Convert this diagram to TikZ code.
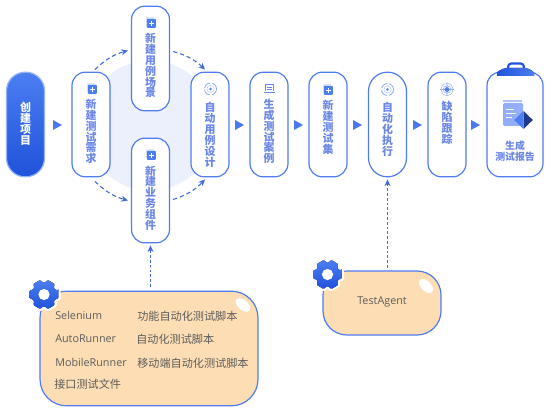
\documentclass[tikz,border=0pt]{standalone}
\usepackage{fontspec}
\setmainfont{Open Sans}
\newfontfamily\cjk{Noto Sans CJK SC}
\usetikzlibrary{arrows.meta}
\definecolor{edge}{HTML}{4F7CF0}
\definecolor{ink}{HTML}{6A86E6}
\definecolor{tri}{HTML}{4A78F0}
\definecolor{halo}{HTML}{ECF0FC}
\definecolor{peach}{HTML}{FDDDB3}
\definecolor{greytxt}{HTML}{5C5C5C}
\definecolor{dash}{HTML}{3F68DC}
\definecolor{deep}{HTML}{1F52DA}
\definecolor{lite}{HTML}{4C7EF2}
\definecolor{navy}{HTML}{1D3A8A}
\tikzset{
  x=0.75pt,y=-0.75pt,
  stage/.style={draw=edge,line width=0.9pt,fill=white,rounded corners=10pt,minimum width=28.5pt,minimum height=78.5pt,inner sep=0pt},
  vtext/.style={font=\cjk\bfseries\fontsize{8.2}{8.15}\selectfont,text=ink,align=center,inner sep=0pt},
  flowtri/.style={fill=tri,draw=none},
  dashflow/.style={draw=dash,line width=0.8pt,dash pattern=on 3.2pt off 2.2pt,-{Stealth[length=5pt,width=4.5pt]}},
  dashup/.style={draw=dash,line width=0.6pt,dash pattern=on 2pt off 1.6pt,-{Stealth[length=5pt,width=4.5pt]}},
  note/.style={draw=edge,line width=0.9pt,fill=peach,inner sep=0pt},
  notetxt/.style={font=\fontsize{8.1}{10}\selectfont,text=greytxt,anchor=west,inner sep=0pt},
  notecjk/.style={font=\cjk\fontsize{8.35}{10}\selectfont,text=greytxt,anchor=west,inner sep=0pt},
}
\newcommand{\flowtriangle}[1]{\fill[flowtri] (#1,120) -- (#1+9,125) -- (#1,130) -- cycle;}
\newcommand{\plusicon}[2]{%
  \fill[edge!18] (#1-5.5,#2-6) rectangle (#1+3,#2+3);
  \fill[lite,rounded corners=0.6pt] (#1-4.2,#2-4.2) rectangle (#1+4.8,#2+4.8);
  \draw[white,line width=0.8pt] (#1-2,#2+0.3) -- (#1+2.6,#2+0.3) (#1+0.3,#2-2) -- (#1+0.3,#2+2.6);}
\newcommand{\cogpath}{(-16:15) \foreach \a in {0,60,...,300}{ -- (\a-16:15) -- (\a+16:15) -- (\a+24:12) -- (\a+36:12)} -- cycle}
\newcommand{\cogicon}[2]{%
  \begin{scope}[shift={(#1,#2)}]
  \draw[white,line width=3.4pt,line join=round,fill=white] \cogpath;
  \fill[top color=lite,bottom color=deep,rounded corners=0.8pt] \cogpath;
  \fill[white] (0,0) circle (5.6);
  \end{scope}}
\newcommand{\spinicon}[2]{%
  \draw[edge!70,line width=0.55pt,dash pattern=on 6pt off 1.5pt] (#1,#2) circle (6);
  \draw[edge!35,line width=0.5pt] (#1,#2) circle (3.6);
  \fill[lite] (#1,#2) circle (1.4);}
\begin{document}
\begin{tikzpicture}
\useasboundingbox (0,0) rectangle (552,413);
% backdrop disc
\fill[halo] (150,125.5) circle (65);
% stages
\node[stage,rounded corners=14pt,top color=lite,bottom color=deep,draw=lite!60!white] (create) at (25.5,124.5) {};
\node[stage] (need) at (91,124.5) {};
\node[stage] (scene) at (150.5,58.5) {};
\node[stage] (comp) at (150.5,190.5) {};
\node[stage] (design) at (210,124.5) {};
\node[stage] (case) at (269,124.5) {};
\node[stage] (suite) at (328,124.5) {};
\node[stage,rounded corners=14.2pt] (run) at (387.5,124.5) {};
\node[stage] (bug) at (447,124.5) {};
\node[stage,minimum width=42pt] (report) at (515,124.5) {};
% labels
\node[vtext,text=white] (createT) at (25.5,124) {创\\建\\项\\目};
\node[vtext] (needT) at (91,131.5) {新\\建\\测\\试\\需\\求};
\node[vtext] (sceneT) at (150.5,65.5) {新\\建\\用\\例\\场\\景};
\node[vtext] (compT) at (150.5,198) {新\\建\\业\\务\\组\\件};
\node[vtext] (designT) at (210,135) {自\\动\\用\\例\\设\\计};
\node[vtext] (caseT) at (269,131.5) {生\\成\\测\\试\\案\\例};
\node[vtext] (suiteT) at (328,127.5) {新\\建\\测\\试\\集};
\node[vtext] (runT) at (387.5,129.5) {自\\动\\化\\执\\行};
\node[vtext] (bugT) at (447,123) {缺\\陷\\跟\\踪};
\node[vtext,font=\cjk\bfseries\fontsize{7.4}{8.2}\selectfont] (reportT) at (515,151) {生成\\测试报告};
% icons
\plusicon{92}{89}
\plusicon{151}{23}
\plusicon{151}{155}
\plusicon{328}{90}
\spinicon{210.5}{89}
\spinicon{387.5}{89.5}
\draw[ink,line width=0.55pt] (265,84) -- (265,91.5) (273.5,84) -- (273.5,91.5) (265,84) -- (273.5,84) (264,92) -- (274.5,92);
\draw[ink,line width=0.4pt] (267,87) -- (271.5,87) (267,89) -- (271.5,89);
\draw[edge!60,line width=0.4pt] (447,89.5) circle (6) (447,89.5) circle (3.8) (440,89.5) -- (454,89.5) (447,82.5) -- (447,96.5);
\fill[lite] (447,89.5) circle (2.4);
% report clipboard
\draw[deep,line width=1.6pt,fill=white,rounded corners=2.5pt] (508,72) -- (508,63.5) -- (524,63.5) -- (524,72);
\fill[left color=deep,right color=lite] (497,76) -- (497,72.5) .. controls (500,69.5) and (504,68) .. (509,68) -- (523,68) .. controls (528,68) and (531,69.5) .. (534,72.5) -- (534,76) -- cycle;
\fill[edge!45] (503,100) rectangle (522,102);
\fill[color=edge!62,rounded corners=1pt] (503,103) rectangle (523,126);
\draw[white,line width=0.6pt] (506,109) -- (514,109) (506,113) -- (516,113) (506,117) -- (512,117);
\fill[navy] (523.5,111) -- (532.8,120) -- (523.5,129) -- cycle;
\fill[lite] (523.5,111) -- (523.5,129) -- (514.2,120) -- cycle;
% flow triangles
\flowtriangle{53}
\flowtriangle{235}
\flowtriangle{294}
\flowtriangle{353}
\flowtriangle{413}
\flowtriangle{471}
% dashed connectors
\draw[dashflow] ([shift={(4,-2)}]need.north) to[bend left=14] ([shift={(-3,-8)}]scene.west);
\draw[dashflow] ([shift={(3,-7)}]scene.east) to[bend left=14] ([shift={(-5,-2)}]design.north);
\draw[dashflow] ([shift={(4,4)}]need.south) to[bend right=14] ([shift={(-3,10)}]comp.west);
\draw[dashflow] ([shift={(3,9)}]comp.east) to[bend right=14] ([shift={(-5,2)}]design.south);
% notes
\node[note,minimum width=163.5pt,minimum height=86pt,rounded corners=20pt] (tools) at (149,348.5) {};
\node[note,minimum width=88.5pt,minimum height=48pt,rounded corners=18pt] (agent) at (382,303) {};
\draw[dashup] (tools.north -| comp.south) ++(0,-4) coordinate (toolsTop) (toolsTop) -- ([yshift=-1.5pt]comp.south);
\draw[dashup] ([yshift=2pt]agent.north -| run.south) coordinate (agentTop) -- ([yshift=-1.5pt]run.south);
\fill[white,rotate around={-40:(243,305)}] (243,305) ellipse (8.5 and 5);
\fill[white,rotate around={-45:(426,286)}] (426,286) ellipse (8.5 and 5);
\cogicon{44}{294.5}
\cogicon{327.5}{274.5}
% note text
\node[notetxt] (t1) at (55,315) {Selenium};
\node[notecjk] (t2) at (137,316) {功能自动化测试脚本};
\node[notetxt] (t3) at (55,339) {AutoRunner};
\node[notecjk] (t4) at (136,339) {自动化测试脚本};
\node[notetxt] (t5) at (55,362.5) {MobileRunner};
\node[notecjk] (t6) at (137,363) {移动端自动化测试脚本};
\node[notecjk] (t7) at (54,384) {接口测试文件};
\node[notetxt,anchor=center] (t8) at (382,302) {TestAgent};
\end{tikzpicture}
\end{document}
